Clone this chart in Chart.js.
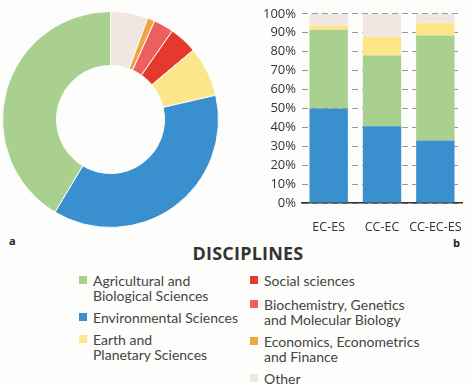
<!DOCTYPE html>
<html>
<head>
<meta charset="utf-8">
<script src="https://cdn.jsdelivr.net/npm/chart.js@4"></script>
<style>
  body { margin:0; background:#fdfdfb; width:474px; height:384px; position:relative; overflow:hidden; font-family:"Open Sans", sans-serif; }
  #pie { position:absolute; left:2px; top:11px; }
  #bar { position:absolute; left:240px; top:0px; }
  .tag { position:absolute; font:bold 11px "Open Sans"; color:#222; }
  #title { position:absolute; left:0; width:496px; top:241px; text-align:center; font:bold 18px "Open Sans"; color:#333; letter-spacing:0.2px; }
  .leg { position:absolute; font:14px "Lato"; color:#444; line-height:15px; white-space:nowrap; }
  .leg i { position:absolute; left:-14px; top:3px; width:8px; height:8px; }
</style>
</head>
<body>
<canvas id="pie" width="217" height="217"></canvas>
<canvas id="bar" width="234" height="235"></canvas>
<div class="tag" style="left:9px;top:233px">a</div>
<div class="tag" style="left:453px;top:235px">b</div>
<div id="title">DISCIPLINES</div>
<div id="legend"></div>
<script>
// discipline names and colours
let disciplines = ['Agricultural and\nBiological Sciences', 'Environmental Sciences', 'Earth and\nPlanetary Sciences',
  'Social sciences', 'Biochemistry, Genetics\nand Molecular Biology', 'Economics, Econometrics\nand Finance', 'Other']
let colors = ['#a9d08e', '#3a90cf', '#fde68a', '#e5392e', '#ee5f5f', '#eea73f', '#f2e6e2']

// pie (a): share of each discipline, %
let pieShares = [41.4, 37.2, 7.5, 4.2, 3.0, 1.1, 5.6]

// bars (b)
let groups = ['EC-ES', 'CC-EC', 'CC-EC-ES']
let envValues   = [50, 40.5, 33]
let agriValues  = [41.6, 37.5, 55.5]
let earthValues = [2.1, 10, 6.8]
let otherValues = [6.3, 12, 4.7]

// pie goes clockwise from top: Other, Economics, Biochem, Social, Earth, Env, Agri
let pieOrder = [6, 5, 4, 3, 2, 1, 0]

new Chart(document.getElementById('pie'), {
  type: 'doughnut',
  data: {
    labels: pieOrder.map(i => disciplines[i]),
    datasets: [{ data: pieOrder.map(i => pieShares[i]), backgroundColor: pieOrder.map(i => colors[i]), borderColor: '#fdfdfb', borderWidth: 1 }]
  },
  options: { responsive: false, animation: false, cutout: '50%', plugins: { legend: { display: false }, tooltip: { enabled: false } } }
});

let tickFont = { family: 'Open Sans', size: 13 }
new Chart(document.getElementById('bar'), {
  type: 'bar',
  data: {
    labels: groups,
    datasets: [
      { label: 'Environmental Sciences', data: envValues, backgroundColor: colors[1] },
      { label: 'Agricultural and Biological Sciences', data: agriValues, backgroundColor: colors[0] },
      { label: 'Earth and Planetary Sciences', data: earthValues, backgroundColor: colors[2] },
      { label: 'Other', data: otherValues, backgroundColor: colors[6] }
    ]
  },
  options: {
    responsive: false, animation: false,
    layout: { padding: { top: 12, right: 12, left: 0, bottom: 0 } },
    datasets: { bar: { barPercentage: 0.72, categoryPercentage: 1 } },
    plugins: { legend: { display: false }, tooltip: { enabled: false } },
    scales: {
      x: {
        stacked: true,
        afterFit: s => { s.height = 32 },
        grid: { display: false },
        border: { display: true, color: '#333', width: 1.5 },
        ticks: { color: '#333', font: { family: 'Open Sans', size: 12.5 }, padding: 9, maxRotation: 0, minRotation: 0, autoSkip: false }
      },
      y: {
        stacked: true, min: 0, max: 100,
        afterFit: s => { s.width = 62 },
        ticks: { stepSize: 10, color: '#333', font: tickFont, padding: 6, callback: v => v + '%' },
        grid: { color: '#999', drawTicks: false, lineWidth: 1 },
        border: { display: false, dash: [6, 4] }
      }
    }
  }
});

// legend as two columns
let legendPos = [[93, 273], [93, 310], [93, 332], [264, 273], [264, 297], [264, 334], [264, 371]]
let html = ''
disciplines.forEach((d, i) => {
  html += '<div class="leg" style="left:' + legendPos[i][0] + 'px;top:' + legendPos[i][1] + 'px"><i style="background:' + colors[i] + '"></i>' + d.replace('\n', '<br>') + '</div>'
})
document.getElementById('legend').innerHTML = html
</script>
</body>
</html>
